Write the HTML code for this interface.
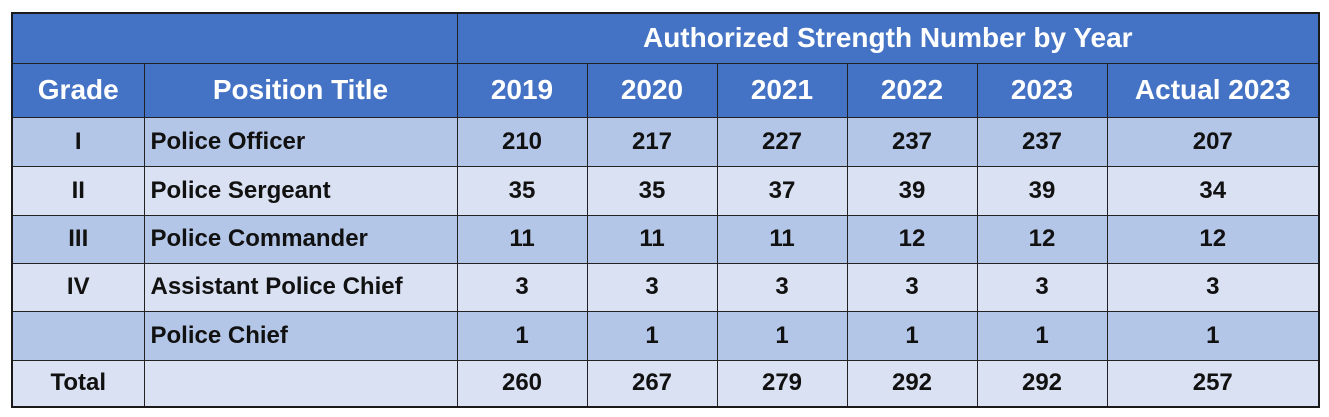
<!DOCTYPE html>
<html><head><style>
html,body{margin:0;padding:0;background:#fff;width:1329px;height:417px;overflow:hidden}
table{position:absolute;left:11px;top:12px;border-collapse:collapse;table-layout:fixed;font-family:"Liberation Sans",sans-serif;font-weight:bold;border:2px solid #1a1a1a}
td{border:1.5px solid #222;padding:0;text-align:center;font-size:24px;color:#111;overflow:hidden;white-space:nowrap}
.h td{background:#4472C4;color:#fff;font-size:28px}
.a td{background:#B4C6E7}
.b td{background:#D9E1F2}
td.l{text-align:left;padding-left:6px}
</style></head><body>
<table>
<colgroup><col style="width:132px"><col style="width:313px"><col style="width:130px"><col style="width:130px"><col style="width:130px"><col style="width:130px"><col style="width:130px"><col style="width:212px"></colgroup>
<tr class="h" style="height:50px"><td colspan="2" style="border-right-color:#222;border-bottom-color:#222"></td><td colspan="6">Authorized Strength Number by Year</td></tr>
<tr class="h" style="height:54px"><td>Grade</td><td>Position Title</td><td>2019</td><td>2020</td><td>2021</td><td>2022</td><td>2023</td><td>Actual 2023</td></tr>
<tr class="a" style="height:49px"><td>I</td><td class="l">Police Officer</td><td>210</td><td>217</td><td>227</td><td>237</td><td>237</td><td>207</td></tr>
<tr class="b" style="height:49px"><td>II</td><td class="l">Police Sergeant</td><td>35</td><td>35</td><td>37</td><td>39</td><td>39</td><td>34</td></tr>
<tr class="a" style="height:48px"><td>III</td><td class="l">Police Commander</td><td>11</td><td>11</td><td>11</td><td>12</td><td>12</td><td>12</td></tr>
<tr class="b" style="height:48px"><td>IV</td><td class="l">Assistant Police Chief</td><td>3</td><td>3</td><td>3</td><td>3</td><td>3</td><td>3</td></tr>
<tr class="a" style="height:49px"><td></td><td class="l">Police Chief</td><td>1</td><td>1</td><td>1</td><td>1</td><td>1</td><td>1</td></tr>
<tr class="b" style="height:47px"><td>Total</td><td></td><td>260</td><td>267</td><td>279</td><td>292</td><td>292</td><td>257</td></tr>
</table>
</body></html>
